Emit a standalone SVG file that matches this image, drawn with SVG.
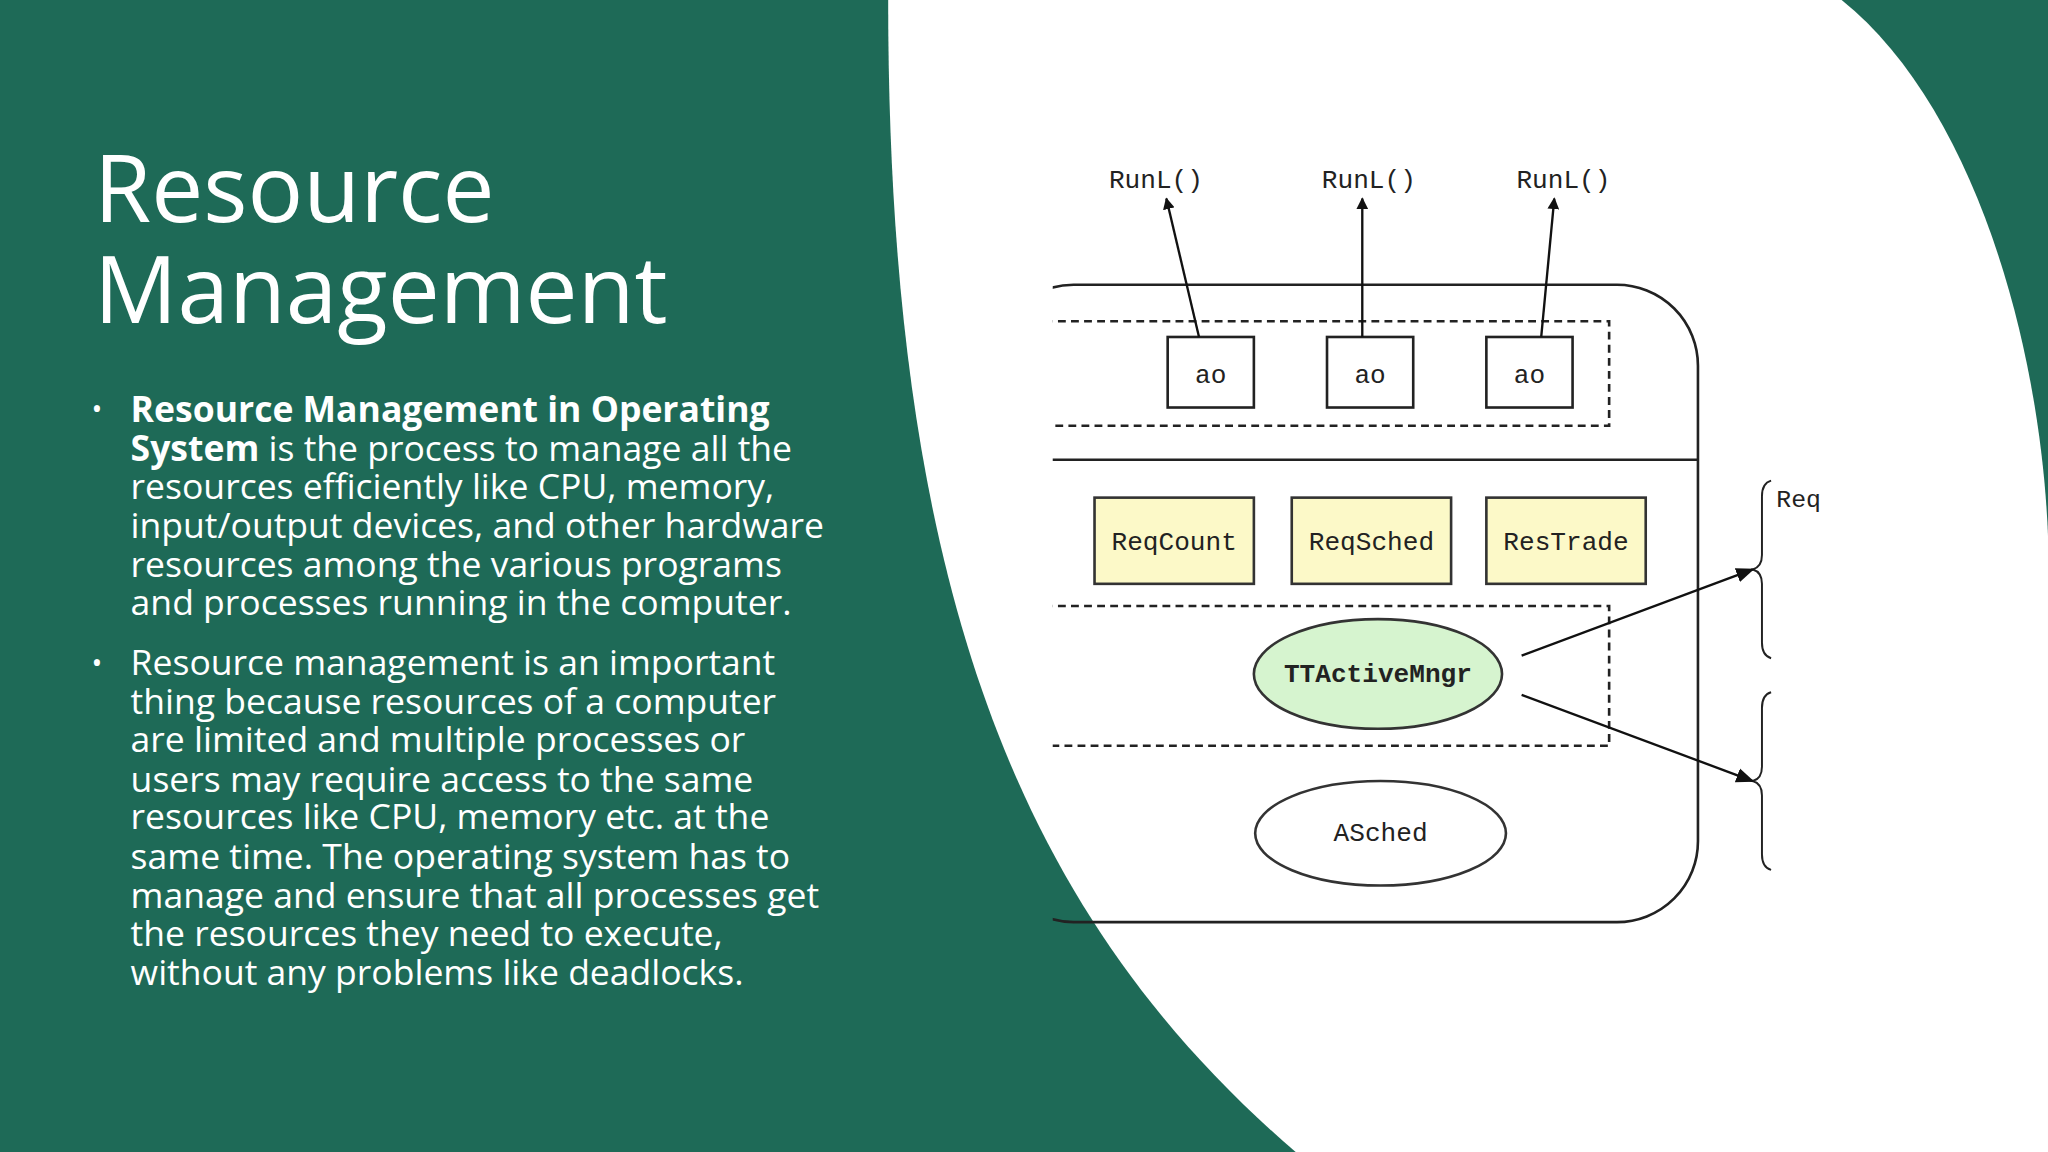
<svg xmlns="http://www.w3.org/2000/svg" width="2048" height="1152" viewBox="0 0 2048 1152">
<defs>
<style>
.t{font-family:"Open Sans","Noto Sans",sans-serif;fill:#fff}
.b{font-size:27.2px}
.m{font-family:"Liberation Mono","DejaVu Sans Mono",monospace;font-size:20px;fill:#222;text-anchor:middle}
.ln{stroke:#222;stroke-width:2;fill:none}
.d{stroke:#222;stroke-width:2;fill:none;stroke-dasharray:6,4}
</style>
<marker id="ar" viewBox="0 0 10 10" refX="9" refY="5" markerWidth="9" markerHeight="9" orient="auto" markerUnits="userSpaceOnUse"><path d="M0,0L10,5L0,10z" fill="#111"/></marker>
<marker id="ar2" viewBox="0 0 10 10" refX="9" refY="5" markerWidth="14" markerHeight="14" orient="auto" markerUnits="userSpaceOnUse"><path d="M0,1L10,5L0,9z" fill="#111"/></marker>
<clipPath id="cp"><rect x="806" y="90" width="600" height="640"/></clipPath>
</defs>
<rect width="2048" height="1152" fill="#1e6a57"/>
<g transform="scale(1.30612)">
<path d="M680,0 L1410,0 C1510,80 1562,260 1568,410 L1568,882 L992,882 C780,700 680,450 680,0 Z" fill="#fff"/>
<g id="title">
<text class="t" x="72" y="170" font-size="71">Resource</text>
<text class="t" x="72" y="247" font-size="71">Management</text>
</g>
<g id="bullets" class="t b">
<text x="70" y="321" font-size="22">•</text>
<text x="100" y="323"><tspan font-weight="bold">Resource Management in Operating</tspan></text>
<text x="100" y="353"><tspan font-weight="bold">System</tspan> is the process to manage all  the</text>
<text x="100" y="382">resources efficiently like CPU, memory,</text>
<text x="100" y="412">input/output devices, and other hardware</text>
<text x="100" y="442">resources among the various programs</text>
<text x="100" y="471">and processes running in the computer.</text>
<text x="70" y="515" font-size="22">•</text>
<text x="100" y="517">Resource management is an important</text>
<text x="100" y="547">thing because resources of a computer</text>
<text x="100" y="576">are limited and multiple processes or</text>
<text x="100" y="606">users may require access to the same</text>
<text x="100" y="635">resources like CPU, memory etc. at the</text>
<text x="100" y="665">same time. The operating system has to</text>
<text x="100" y="695">manage and ensure that all processes get</text>
<text x="100" y="724">the resources they need to execute,</text>
<text x="100" y="754">without any problems like deadlocks.</text>
</g>
<g clip-path="url(#cp)">
<rect x="760" y="218" width="540" height="488" rx="62" class="ln"/>
<line x1="780" y1="352" x2="1300" y2="352" class="ln"/>
<rect x="780" y="246" width="452" height="80" class="d"/>
<rect x="780" y="464" width="452" height="107" class="d"/>
</g>
<g id="runl1"><text class="m" x="885" y="144">RunL()</text></g>
<g id="runl2"><text class="m" x="1048" y="144">RunL()</text></g>
<g id="runl3"><text class="m" x="1197" y="144">RunL()</text></g>
<g id="ao1"><rect x="894" y="258" width="66" height="54" fill="#fff" stroke="#222" stroke-width="2"/><text class="m" x="927" y="293">ao</text></g>
<g id="ao2"><rect x="1016" y="258" width="66" height="54" fill="#fff" stroke="#222" stroke-width="2"/><text class="m" x="1049" y="293">ao</text></g>
<g id="ao3"><rect x="1138" y="258" width="66" height="54" fill="#fff" stroke="#222" stroke-width="2"/><text class="m" x="1171" y="293">ao</text></g>
<g id="reqcount"><rect x="838" y="381" width="122" height="66" fill="#fcf9c8" stroke="#333" stroke-width="2"/><text class="m" x="899" y="421">ReqCount</text></g>
<g id="reqsched"><rect x="989" y="381" width="122" height="66" fill="#fcf9c8" stroke="#333" stroke-width="2"/><text class="m" x="1050" y="421">ReqSched</text></g>
<g id="restrade"><rect x="1138" y="381" width="122" height="66" fill="#fcf9c8" stroke="#333" stroke-width="2"/><text class="m" x="1199" y="421">ResTrade</text></g>
<g id="ttactive"><ellipse cx="1055" cy="516" rx="95" ry="42" fill="#d6f4cf" stroke="#333" stroke-width="2"/><text class="m" x="1055" y="522" font-weight="bold">TTActiveMngr</text></g>
<g id="asched"><ellipse cx="1057" cy="638" rx="96" ry="40" fill="#fff" stroke="#333" stroke-width="2"/><text class="m" x="1057" y="644">ASched</text></g>
<g id="braces" class="ln">
<path d="M1356,368 Q1349,370 1349,380 L1349,425 Q1349,434 1342,436 Q1349,438 1349,447 L1349,492 Q1349,502 1356,504" stroke-width="1.5"/>
<path d="M1356,530 Q1349,532 1349,542 L1349,587 Q1349,596 1342,598 Q1349,600 1349,609 L1349,654 Q1349,664 1356,666" stroke-width="1.5"/>
</g>
<text x="1360" y="388" font-family="Liberation Mono,monospace" font-size="19" fill="#222">Req</text>
<g id="connectors" stroke="#111" stroke-width="1.8" fill="none">
<line x1="918" y1="258" x2="893" y2="152" marker-end="url(#ar)"/>
<line x1="1043" y1="258" x2="1043" y2="152" marker-end="url(#ar)"/>
<line x1="1180" y1="258" x2="1190" y2="152" marker-end="url(#ar)"/>
<line x1="1165" y1="502" x2="1342" y2="436" marker-end="url(#ar2)"/>
<line x1="1165" y1="532" x2="1342" y2="598" marker-end="url(#ar2)"/>
</g>
</g>
</svg>
